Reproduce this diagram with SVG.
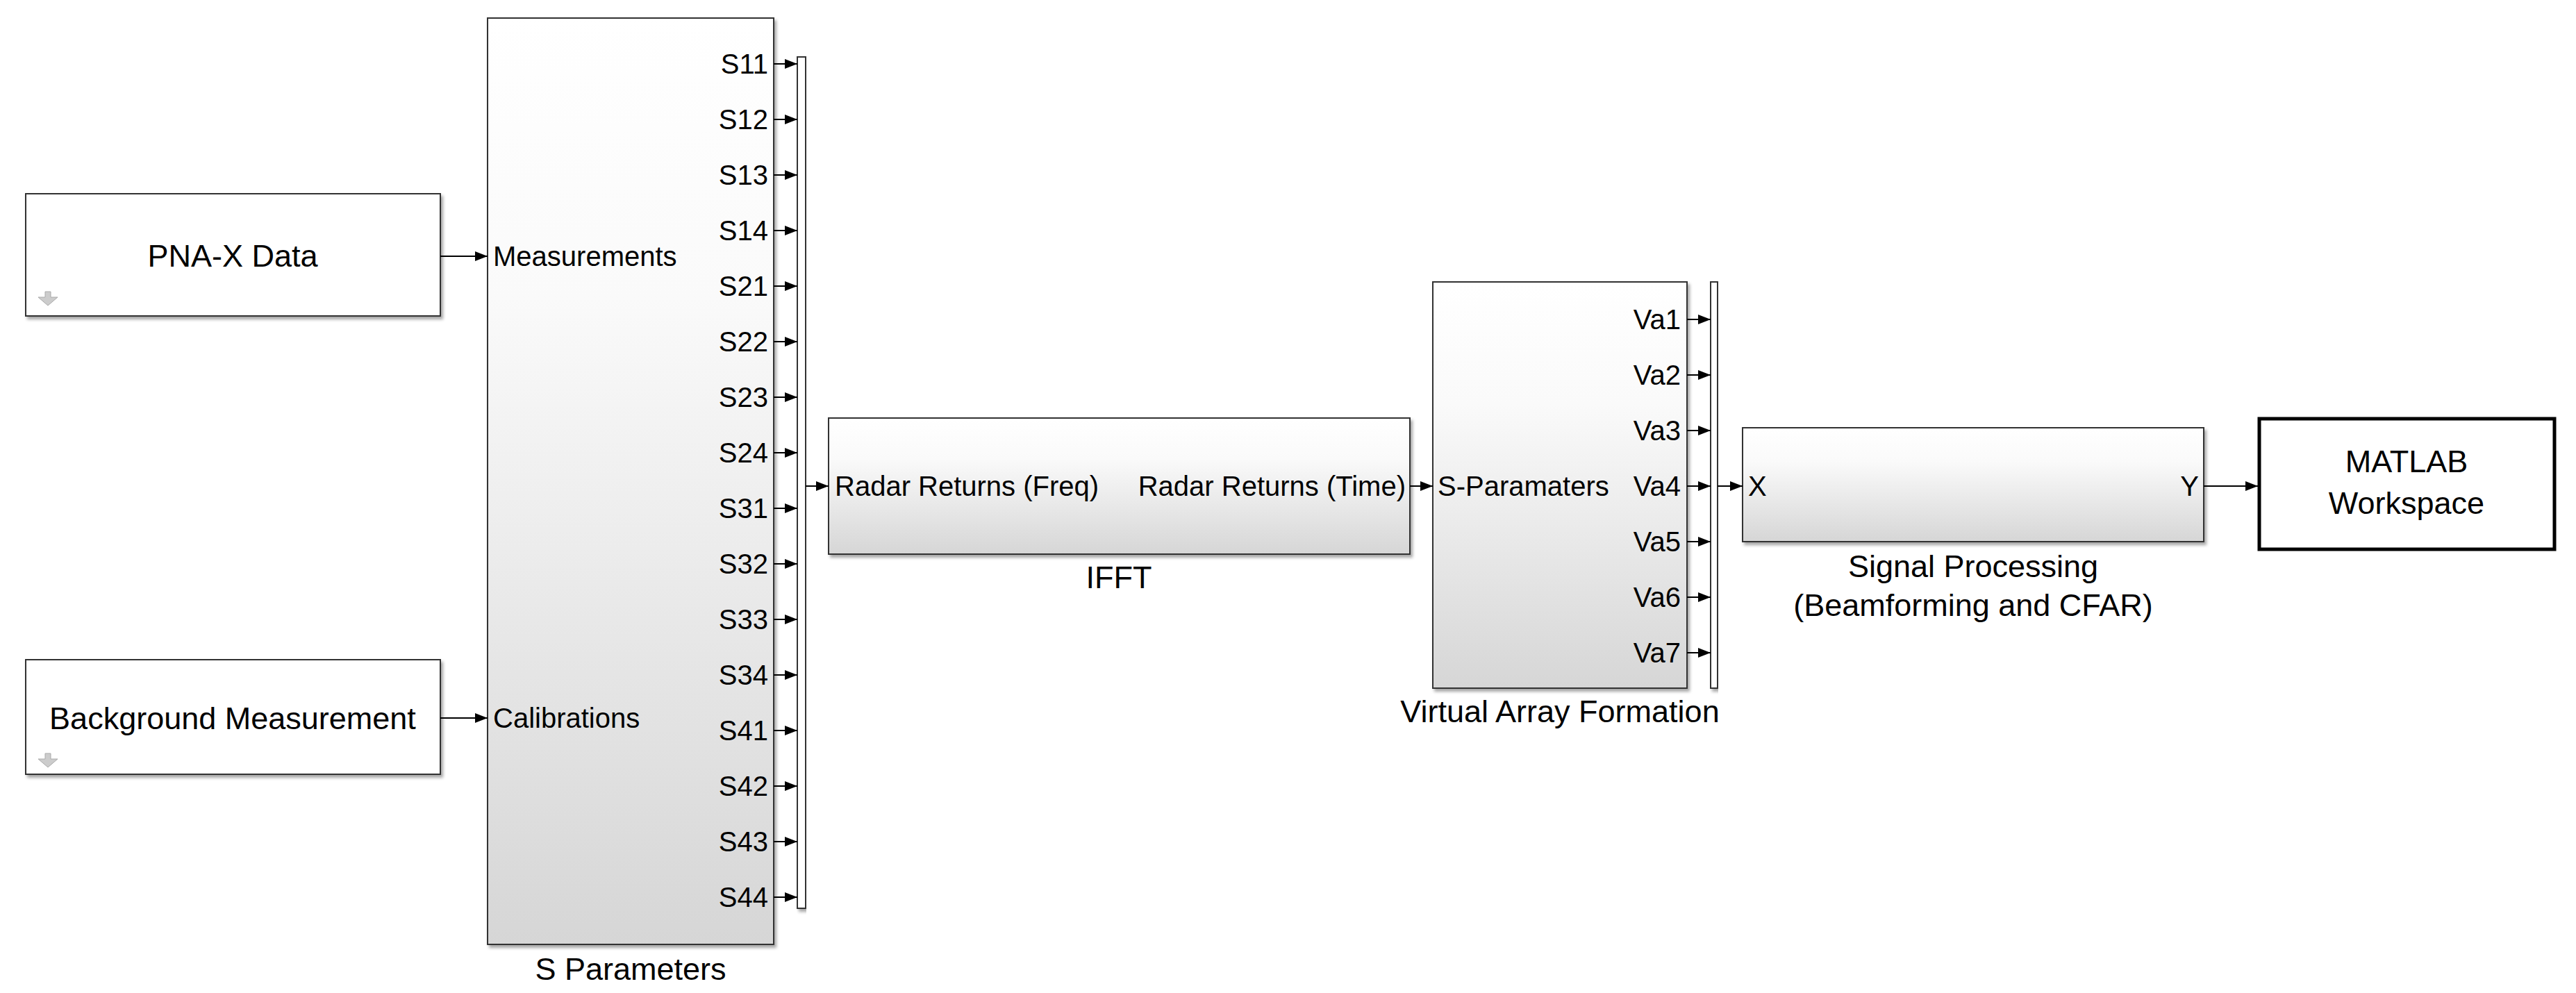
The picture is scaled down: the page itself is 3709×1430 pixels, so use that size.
<svg xmlns="http://www.w3.org/2000/svg" width="3709" height="1430" viewBox="0 0 3709 1430">
<defs>
<linearGradient id="g" x1="0" y1="0" x2="0" y2="1"><stop offset="0" stop-color="#ffffff"/><stop offset="0.3" stop-color="#fafafa"/><stop offset="1" stop-color="#d6d6d6"/></linearGradient>
<marker id="a" markerWidth="18" markerHeight="16" refX="18" refY="8" orient="auto" markerUnits="userSpaceOnUse"><path d="M0,1 L18,8 L0,15 z" fill="#000"/></marker>
<filter id="sh" x="-5%" y="-5%" width="110%" height="115%"><feDropShadow dx="3" dy="4" stdDeviation="2" flood-color="#000" flood-opacity="0.35"/></filter>
</defs>
<style>
text{font-family:"Liberation Sans",Arial,sans-serif;fill:#000}
.box{fill:url(#g);stroke:#333;stroke-width:2;filter:url(#sh)}
.wbox{fill:#fff;stroke:#333;stroke-width:2;filter:url(#sh)}
.mux{fill:#fff;stroke:#333;stroke-width:2;filter:url(#sh)}
.p{font-size:40px}
.t{font-size:45px;text-anchor:middle}
.r{text-anchor:end}
.c line{stroke:#000;stroke-width:2;fill:none;marker-end:url(#a)}
</style>
<rect width="3709" height="1430" fill="#fff"/>
<g id="pnax"><rect class="wbox" x="37" y="279" width="597" height="176"/><text class="t" x="335" y="384">PNA-X Data</text><path d="M55,428 h10 v-8 h8 v8 h10 l-14,12 z" fill="#ccc" stroke="#aaa" stroke-width="1"/></g>
<g id="background"><rect class="wbox" x="37" y="950" width="597" height="165"/><text class="t" x="335" y="1050">Background Measurement</text><path d="M55,1093 h10 v-8 h8 v8 h10 l-14,12 z" fill="#ccc" stroke="#aaa" stroke-width="1"/></g>
<g id="sparams"><rect class="box" x="702" y="26" width="412" height="1334"/>
<text class="p" x="710" y="383">Measurements</text><text class="p" x="710" y="1048">Calibrations</text>
<g class="p r"><text x="1106" y="106">S11</text><text x="1106" y="186">S12</text><text x="1106" y="266">S13</text><text x="1106" y="346">S14</text><text x="1106" y="426">S21</text><text x="1106" y="506">S22</text><text x="1106" y="586">S23</text><text x="1106" y="666">S24</text><text x="1106" y="746">S31</text><text x="1106" y="826">S32</text><text x="1106" y="906">S33</text><text x="1106" y="986">S34</text><text x="1106" y="1066">S41</text><text x="1106" y="1146">S42</text><text x="1106" y="1226">S43</text><text x="1106" y="1306">S44</text></g>
<text class="t" x="908" y="1411">S Parameters</text></g>
<g id="mux1"><rect class="mux" x="1148" y="82" width="12" height="1226"/></g>
<g id="ifft"><rect class="box" x="1193" y="602" width="837" height="196"/><text class="p" x="1202" y="714">Radar Returns (Freq)</text><text class="p r" x="2024" y="714">Radar Returns (Time)</text><text class="t" x="1611" y="847">IFFT</text></g>
<g id="vaf"><rect class="box" x="2063" y="406" width="366" height="585"/><text class="p" x="2070" y="714">S-Paramaters</text>
<g class="p r"><text x="2420" y="474">Va1</text><text x="2420" y="554">Va2</text><text x="2420" y="634">Va3</text><text x="2420" y="714">Va4</text><text x="2420" y="794">Va5</text><text x="2420" y="874">Va6</text><text x="2420" y="954">Va7</text></g>
<text class="t" x="2246" y="1040">Virtual Array Formation</text></g>
<g id="mux2"><rect class="mux" x="2463" y="406" width="10" height="585"/></g>
<g id="sigproc"><rect class="box" x="2509" y="616" width="664" height="164"/><text class="p" x="2517" y="714">X</text><text class="p r" x="3166" y="714">Y</text><text class="t" x="2841" y="831">Signal Processing</text><text class="t" x="2841" y="887">(Beamforming and CFAR)</text></g>
<g id="matlab"><rect x="3253" y="603" width="425" height="188" fill="#fff" stroke="#000" stroke-width="5"/><text class="t" x="3465" y="680">MATLAB</text><text class="t" x="3465" y="740">Workspace</text></g>
<g id="connectors" class="c">
<line x1="634" y1="369" x2="702" y2="369"/><line x1="634" y1="1034" x2="702" y2="1034"/>
<line x1="1114" y1="92" x2="1148" y2="92"/><line x1="1114" y1="172" x2="1148" y2="172"/><line x1="1114" y1="252" x2="1148" y2="252"/><line x1="1114" y1="332" x2="1148" y2="332"/><line x1="1114" y1="412" x2="1148" y2="412"/><line x1="1114" y1="492" x2="1148" y2="492"/><line x1="1114" y1="572" x2="1148" y2="572"/><line x1="1114" y1="652" x2="1148" y2="652"/><line x1="1114" y1="732" x2="1148" y2="732"/><line x1="1114" y1="812" x2="1148" y2="812"/><line x1="1114" y1="892" x2="1148" y2="892"/><line x1="1114" y1="972" x2="1148" y2="972"/><line x1="1114" y1="1052" x2="1148" y2="1052"/><line x1="1114" y1="1132" x2="1148" y2="1132"/><line x1="1114" y1="1212" x2="1148" y2="1212"/><line x1="1114" y1="1292" x2="1148" y2="1292"/>
<line x1="1160" y1="700" x2="1193" y2="700"/>
<line x1="2030" y1="700" x2="2063" y2="700"/>
<line x1="2429" y1="460" x2="2463" y2="460"/><line x1="2429" y1="540" x2="2463" y2="540"/><line x1="2429" y1="620" x2="2463" y2="620"/><line x1="2429" y1="700" x2="2463" y2="700"/><line x1="2429" y1="780" x2="2463" y2="780"/><line x1="2429" y1="860" x2="2463" y2="860"/><line x1="2429" y1="940" x2="2463" y2="940"/>
<line x1="2473" y1="700" x2="2509" y2="700"/>
<line x1="3173" y1="700" x2="3251" y2="700"/>
</g>
</svg>
